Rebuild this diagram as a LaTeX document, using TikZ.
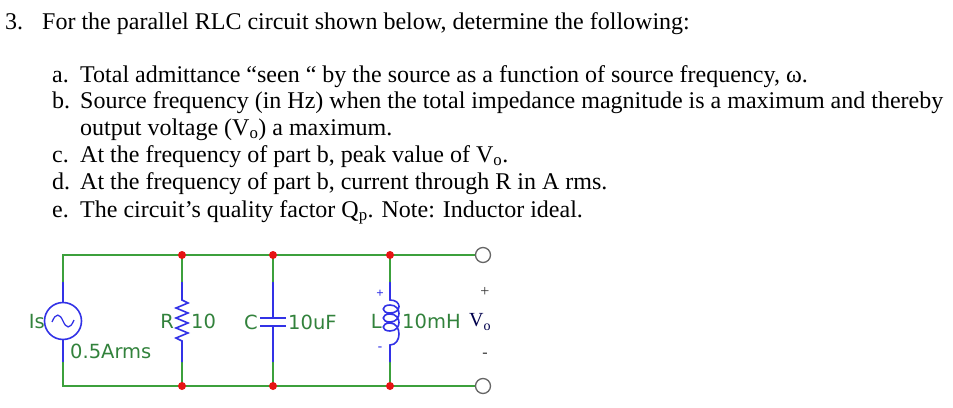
\documentclass[tikz,border=0pt]{standalone}
\usepackage{fontspec}
\setmainfont{Liberation Serif}
\newfontfamily\vfont{DejaVu Sans}
\definecolor{wire}{RGB}{60,160,60}
\definecolor{comp}{RGB}{50,50,230}
\definecolor{lab}{RGB}{50,130,60}
\definecolor{dotc}{RGB}{230,20,20}
\begin{document}
\begin{tikzpicture}[x=1pt,y=-1pt,
  txt/.style={anchor=base west,inner sep=0pt,font=\fontsize{24}{27}\selectfont},
  lbl/.style={inner sep=0pt,text=lab,font=\vfont\fontsize{19.5}{21}\selectfont},
  wr/.style={draw=wire,line width=1.6pt},
  cp/.style={draw=comp,line width=1.6pt},
  jd/.style={circle,fill=dotc,inner sep=0pt,minimum size=8pt},
  term/.style={circle,draw=black!60,line width=1.3pt,fill=white,inner sep=0pt,minimum size=15pt}]
\useasboundingbox (0,0) rectangle (953,407);
\node[txt] at (5,29) {3.};
\node[txt] at (42,29) {For the parallel RLC circuit shown below, determine the following:};
\node[txt] at (52,82) {a.};
\node[txt] at (80,82) {Total admittance “seen “ by the source as a function of source frequency, ω.};
\node[txt] at (52,108) {b.};
\node[txt] at (80,108) {Source frequency (in Hz) when the total impedance magnitude is a maximum and thereby};
\node[txt] at (80,135) {output voltage (V\textsubscript{o}) a maximum.};
\node[txt] at (52,162) {c.};
\node[txt] at (80,162) {At the frequency of part b, peak value of V\textsubscript{o}.};
\node[txt] at (52,189) {d.};
\node[txt] at (80,189) {At the frequency of part b, current through R in A rms.};
\node[txt] at (52,217) {e.};
\node[txt] at (80,217) {The circuit’s quality factor Q\textsubscript{p}. Note: Inductor ideal.};
% wires
\coordinate (st) at (63,255); \coordinate (sb) at (63,386);
\coordinate (rt) at (182,255); \coordinate (rb) at (182,386);
\coordinate (ct) at (273,255); \coordinate (cb) at (273,386);
\coordinate (lt) at (390,255); \coordinate (lb) at (390,386);
\draw[wr] (63,282) -- (st) -- (rt) -- (ct) -- (lt) -- (476,255);
\draw[wr] (63,362) -- (sb) -- (rb) -- (cb) -- (lb) -- (476,386);
\foreach \x in {182,273,390}{
  \draw[wr] (\x,255) -- (\x,282);
  \draw[wr] (\x,362) -- (\x,386);}
\foreach \p in {rt,rb,ct,cb,lt,lb}{\node[jd] at (\p) {};}
% source
\node[circle,draw=comp,line width=1.6pt,minimum size=37pt,inner sep=0pt] (src) at (63,321) {};
\draw[cp] (63,282) -- (src.north); \draw[cp] (src.south) -- (63,362);
\draw[comp,line width=1.3pt] (52,322) .. controls (56,312) and (60,314) .. (63,321) .. controls (66,328) and (70,330) .. (74,320);
% resistor
\draw[cp] (182,282) -- (182,300) -- (188,303) -- (176,308) -- (188,313) -- (176,318) -- (188,323) -- (176,328) -- (188,333) -- (176,338) -- (182,341) -- (182,362);
% capacitor
\draw[cp] (273,282) -- (273,318); \draw[cp] (273,326) -- (273,362);
\draw[cp] (260,318) -- (286,318); \draw[cp] (260,326) -- (286,326);
% inductor
\draw[cp] (390,282) -- (390,300) .. controls (402,300) and (402,313) .. (390,313) .. controls (381,313) and (381,305) .. (390,305)
  .. controls (402,305) and (402,322) .. (390,322) .. controls (381,322) and (381,314) .. (390,314)
  .. controls (402,314) and (402,331) .. (390,331) .. controls (381,331) and (381,323) .. (390,323)
  .. controls (402,323) and (402,345) .. (390,345) -- (390,362);
% terminals
\node[term] (t1) at (483,255) {}; \node[term] (t2) at (483,386) {};
% labels
\node[lbl,anchor=east] at (45,322) {Is};
\node[lbl,anchor=west] at (70,351) {0.5Arms};
\node[lbl,anchor=east] at (174,321) {R};
\node[lbl,anchor=west] at (191,321) {10};
\node[lbl,anchor=east] at (258,322) {C};
\node[lbl,anchor=west] at (288,322) {10uF};
\node[lbl,anchor=east] at (382,321) {L};
\node[lbl,anchor=west] at (402,321) {10mH};
\node[inner sep=0pt,font=\fontsize{13}{13}\selectfont\bfseries,text=comp] at (380,294) {+};
\node[inner sep=0pt,font=\fontsize{13}{13}\selectfont\bfseries,text=comp] at (380,349) {-};
\node[inner sep=0pt,font=\fontsize{16}{16}\selectfont,text=black!80] at (485,292) {+};
\node[inner sep=0pt,font=\fontsize{16}{16}\selectfont,text=black!80] at (485,355) {-};
\node[inner sep=0pt,anchor=west,font=\fontsize{20}{20}\selectfont,text=black!70!blue] at (469,322) {V\textsubscript{o}};
\end{tikzpicture}
\end{document}
